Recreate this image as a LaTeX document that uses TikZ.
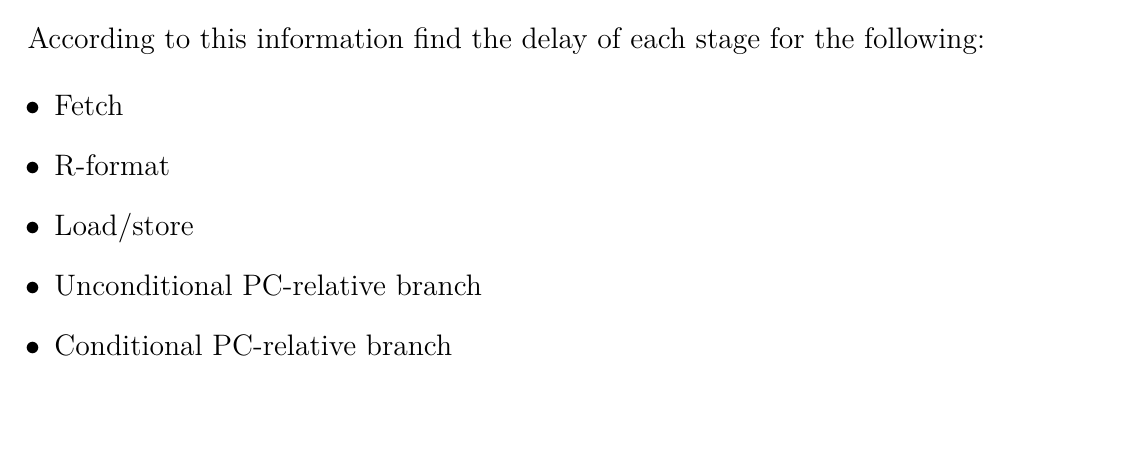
\documentclass[tikz,border=0pt]{standalone}
\begin{document}
\begin{tikzpicture}[x=0.4pt,y=-0.4pt,txt/.style={anchor=base west,inner sep=0pt,font=\fontsize{11.85}{14}\selectfont}]
\useasboundingbox (0,0) rectangle (1125,461);
\node[txt] (h) at (27,48) {According to this information find the delay of each stage for the following:};
\foreach \t [count=\i] in {Fetch,R-format,Load/store,Unconditional PC-relative branch,Conditional PC-relative branch}{
  \node[txt] (b\i) at (25,55+60*\i) {$\bullet$};
  \node[txt] (t\i) at (54,55+60*\i) {\t};
}
\end{tikzpicture}
\end{document}
